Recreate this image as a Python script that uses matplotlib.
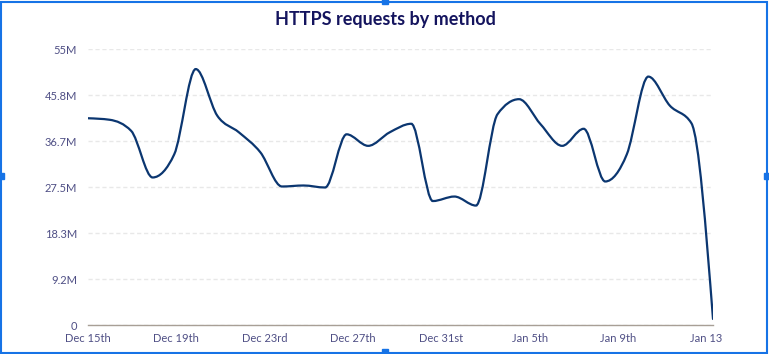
import numpy as np
import matplotlib.pyplot as plt
from matplotlib.path import Path
from matplotlib.patches import PathPatch, Rectangle

# daily HTTPS requests, millions (Dec 15th .. Jan 13)
requests_m = [41.2, 40.9, 38.7, 29.4, 34.0, 51.0, 41.7, 38.4, 34.4, 27.6,
              27.8, 27.4, 38.0, 35.7, 38.4, 40.1, 24.7, 25.6, 23.8, 42.0,
              45.0, 40.0, 35.7, 39.1, 28.6, 34.0, 49.5, 43.7, 40.2, 1.2]
x_labels = ['Dec 15th', 'Dec 19th', 'Dec 23rd', 'Dec 27th', 'Dec 31st',
            'Jan 5th', 'Jan 9th', 'Jan 13']
y_ticks = [0, 55 / 6, 55 / 3, 27.5, 110 / 3, 275 / 6, 55]
y_labels = ['0', '9.2M', '18.3M', '27.5M', '36.7M', '45.8M', '55M']

LINE = '#0b3670'
TEXT = '#4f4f85'
TITLE = '#14145e'
FRAME = '#1673e6'


def monotone_path(xs, ys):
    # monotone cubic (Steffen) segments as bezier curves
    xs = np.asarray(xs, float)
    ys = np.asarray(ys, float)
    n = len(xs)
    h = np.diff(xs)
    s = np.diff(ys) / h
    t = np.zeros(n)
    for i in range(1, n - 1):
        p = (s[i - 1] * h[i] + s[i] * h[i - 1]) / (h[i - 1] + h[i])
        t[i] = (np.sign(s[i - 1]) + np.sign(s[i])) * min(abs(s[i - 1]), abs(s[i]), 0.5 * abs(p))
    t[0] = (3 * s[0] - t[1]) / 2
    t[-1] = (3 * s[-1] - t[-2]) / 2
    verts = [(xs[0], ys[0])]
    codes = [Path.MOVETO]
    for i in range(n - 1):
        dx = h[i] / 3
        verts += [(xs[i] + dx, ys[i] + dx * t[i]),
                  (xs[i + 1] - dx, ys[i + 1] - dx * t[i + 1]),
                  (xs[i + 1], ys[i + 1])]
        codes += [Path.CURVE4] * 3
    return Path(verts, codes)


plt.rcParams['font.family'] = ['Lato', 'DejaVu Sans']

fig = plt.figure(figsize=(7.69, 3.54), dpi=100)
ax = fig.add_axes([88 / 769, 1 - 325 / 354, 625 / 769, 276 / 354])

days = np.arange(len(requests_m))
ax.add_patch(PathPatch(monotone_path(days, requests_m), facecolor='none',
                       edgecolor=LINE, lw=1.6, capstyle='round', zorder=3))

ax.set_xlim(0, len(requests_m) - 1)
ax.set_ylim(0, 55)
ax.set_yticks(y_ticks)
ax.set_yticklabels(y_labels)
ax.set_xticks(np.arange(len(x_labels)) * 4.1)
ax.set_xticklabels(x_labels)
ax.tick_params(length=0, labelsize=8, labelcolor=TEXT)
ax.tick_params(axis='y', pad=8)
ax.tick_params(axis='x', pad=6)

ax.yaxis.grid(True, color='#e8e8e8', ls=(0, (3, 2)), lw=1)
ax.set_axisbelow(True)
for side in ['top', 'right', 'left']:
    ax.spines[side].set_visible(False)
ax.spines['bottom'].set_color('#a89f96')
ax.spines['bottom'].set_linewidth(1)

fig.text(385 / 769, 1 - 19 / 354, 'HTTPS requests by method', ha='center',
         va='center', fontsize=13, fontweight='bold', color=TITLE)

# selection frame with handles
fig.patches.append(Rectangle((1 / 769, 1 / 354), 766 / 769, 351 / 354,
                             transform=fig.transFigure, fill=False,
                             edgecolor=FRAME, lw=1.5))
for hx, hy in [(385, 1), (385, 352), (1, 176), (767, 176)]:
    fig.patches.append(Rectangle(((hx - 3) / 769, 1 - (hy + 3) / 354), 6 / 769, 6 / 354,
                                 transform=fig.transFigure, color=FRAME))

fig.savefig('out.png', dpi=100)
